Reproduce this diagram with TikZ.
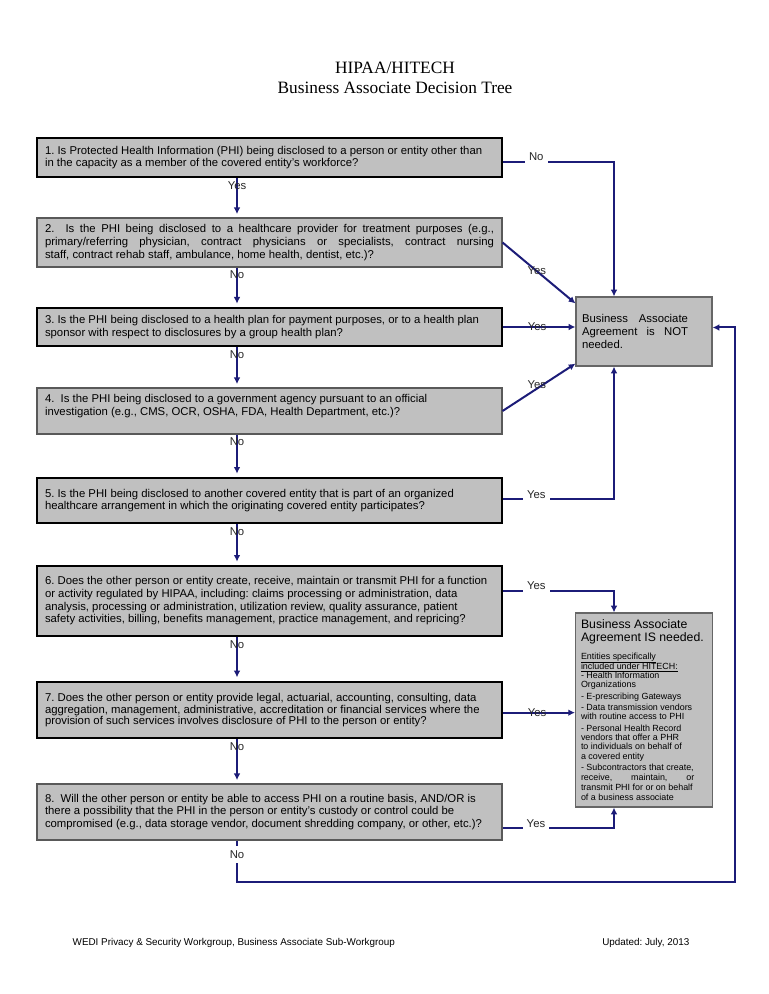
\documentclass[tikz,border=0pt]{standalone}
\usepackage{fontspec}
\setmainfont{Liberation Sans}
\newfontfamily\titlefont{Liberation Serif}
\usepackage{tikz}
\usetikzlibrary{positioning,calc,arrows.meta}
\usepackage{xcolor}
\definecolor{flowblue}{RGB}{28,28,120}
\definecolor{boxgray}{RGB}{192,192,192}
\frenchspacing

\begin{document}
\begin{tikzpicture}[x=0.75pt, y=-0.75pt,
    question/.style={draw=black, line width=1.5pt, fill=boxgray, minimum width=348.75pt,
      text width=336.75pt, inner xsep=6pt, align=flush left, font=\fontsize{8.5}{9.5}\selectfont},
    qthin/.style={question, draw=black!65, line width=0.8pt},
    answer/.style={draw=black!60, line width=0.9pt, fill=boxgray, minimum width=102pt},
    flow/.style={draw=flowblue, line width=1.5pt, -{Latex[length=5pt,width=5pt]}},
    vlbl/.style={font=\fontsize{8.5}{9.5}\selectfont, text=black!85, inner sep=2pt},
    gap/.style={vlbl, fill=white, inner xsep=3pt, inner ysep=3.5pt}]
    \useasboundingbox (0,0) rectangle (768,994);

    % Title
    \node[font=\titlefont\fontsize{13}{15}\selectfont, align=center] (title) at (395, 78)
      {HIPAA/HITECH\\Business Associate Decision Tree};

    % Questions
    \node[question, minimum height=29.25pt] (q1) at (269.5, 157.5)
      {1. Is Protected Health Information (PHI) being disclosed to a person or entity other than\\
       in the capacity as a member of the covered entity's workforce?};
    \node[qthin, minimum height=36.75pt, align=justify] (q2) at (269.5, 242.5)
      {\rightskip=4.5pt\relax
       2.\ \ Is the PHI being disclosed to a healthcare provider for treatment purposes (e.g.,\linebreak
       primary/referring physician, contract physicians or specialists, contract nursing\linebreak
       staff, contract rehab staff, ambulance, home health, dentist, etc.)?};
    \node[question, minimum height=28.5pt] (q3) at (269.5, 327)
      {3. Is the PHI being disclosed to a health plan for payment purposes, or to a health plan\\
       sponsor with respect to disclosures by a group health plan?};
    \node[qthin, minimum height=34.5pt] (q4) at (269.5, 411)
      {4.\ \ Is the PHI being disclosed to a government agency pursuant to an official\\
       investigation (e.g., CMS, OCR, OSHA, FDA, Health Department, etc.)?\\ \mbox{}};
    \node[question, minimum height=33.75pt] (q5) at (269.5, 500.5)
      {5. Is the PHI being disclosed to another covered entity that is part of an organized\\
       healthcare arrangement in which the originating covered entity participates?};
    \node[question, minimum height=52.5pt] (q6) at (269.5, 601)
      {6. Does the other person or entity create, receive, maintain or transmit PHI for a function\\
       or activity regulated by HIPAA, including: claims processing or administration, data\\
       analysis, processing or administration, utilization review, quality assurance, patient\\
       safety activities, billing, benefits management, practice management, and repricing?};
    \node[question, line width=2pt, minimum height=42pt] (q7) at (269.5, 710)
      {7. Does the other person or entity provide legal, actuarial, accounting, consulting, data\\
       aggregation, management, administrative, accreditation or financial services where the\\[-1.5pt]
       provision of such services involves disclosure of PHI to the person or entity?};
    \node[qthin, minimum height=42pt] (q8) at (269.5, 812)
      {8.\ \ Will the other person or entity be able to access PHI on a routine basis, AND/OR is\\
       there a possibility that the PHI in the person or entity's custody or control could be\\
       compromised (e.g., data storage vendor, document shredding company, or other, etc.)?};

    % Outcomes
    \node[answer, minimum height=51.75pt, text width=93pt, inner xsep=4.5pt, align=flush left,
      font=\fontsize{8.5}{9.5}\selectfont] (no) at (644, 331.5)
      {\makebox[79.5pt][s]{Business\hfill Associate}\\
       \makebox[79.5pt][s]{Agreement\hfill is\hfill NOT}\\
       needed.};
    \node[answer, minimum height=145.5pt, text width=94.5pt, inner xsep=4.1pt, align=flush left] (is) at (644, 710)
      {\lineskiplimit=-\maxdimen \parskip=0pt
       {\fontsize{9.2}{9.75}\selectfont Business Associate\\ Agreement IS needed.\par}
       \vspace{6.8pt}
       {\fontsize{6.7}{7}\selectfont \underline{\smash{Entities specifically}}\\
        \underline{\smash{included under HITECH:}}\par}
       \vspace{0pt}
       {\fontsize{6.7}{7}\selectfont
        - Health Information\\ Organizations\\[1.3pt]
        - E-prescribing Gateways\\[1.3pt]
        - Data transmission vendors\\ with routine access to PHI\\[1.8pt]
        - Personal Health Record\\ vendors that offer a PHR\\ to individuals on behalf of\\ a covered entity\par}
       \vspace{0.8pt}
       {\fontsize{6.7}{7.5}\selectfont
        - Subcontractors that create,\\ \makebox[85pt][s]{receive,\hfill maintain,\hfill or}\\
        transmit PHI for or on behalf\\ of a business associate\par}};

    % Shared rails
    \coordinate (spine) at (237, 0);
    \coordinate (col) at (614, 0);
    \coordinate (rail) at (735, 882);

    % Down the tree
    \foreach \a/\b/\t in {q1/q2/Yes, q2/q3/No, q3/q4/No, q4/q5/No, q5/q6/No, q6/q7/No, q7/q8/No}
      \draw[flow, shorten >=2.5pt] (spine |- \a.south) -- node[vlbl, at start, below] {\t} (spine |- \b.north);

    % Yes / No to the outcomes
    \draw[flow] ([yshift=-3.4pt]q1.east) -| node[gap, pos=0.15, yshift=4pt] {No} (col |- no.north);
    \draw[flow] (q2.east) -- node[vlbl, pos=0.47] {Yes} ($(no.north west)+(0,7)$);
    \draw[flow] (q3.east) -- node[vlbl, pos=0.47] {Yes} (q3.east -| no.west);
    \draw[flow] (q4.east) -- node[vlbl, pos=0.47, yshift=3pt] {Yes} ($(no.south west)+(0,-3)$);
    \draw[flow] ([yshift=1.5pt]q5.east) -| node[gap, pos=0.15, yshift=3pt] {Yes} (col |- no.south);
    \draw[flow] ([yshift=7.5pt]q6.east) -| node[gap, pos=0.15, yshift=4pt] {Yes} (col |- is.north);
    \draw[flow] ([yshift=-2pt]q7.east) -- node[vlbl, pos=0.47] {Yes} ([yshift=-2pt]q7.east -| is.west);
    \draw[flow] ([yshift=-12pt]q8.east) -| node[gap, pos=0.15, yshift=3pt] {Yes} (col |- is.south);
    \draw[flow] (spine |- q8.south) |- node[gap, pos=0.17] {No} (rail) |- ([yshift=3pt]no.east);

    % Footer
    \node[anchor=west, font=\fontsize{7.4}{9}\selectfont] (wedi) at (68, 943)
      {WEDI Privacy \& Security Workgroup, Business Associate Sub-Workgroup};
    \node[anchor=east, font=\fontsize{7.4}{9}\selectfont] (updated) at (694, 943)
      {Updated: July, 2013};
\end{tikzpicture}
\end{document}
